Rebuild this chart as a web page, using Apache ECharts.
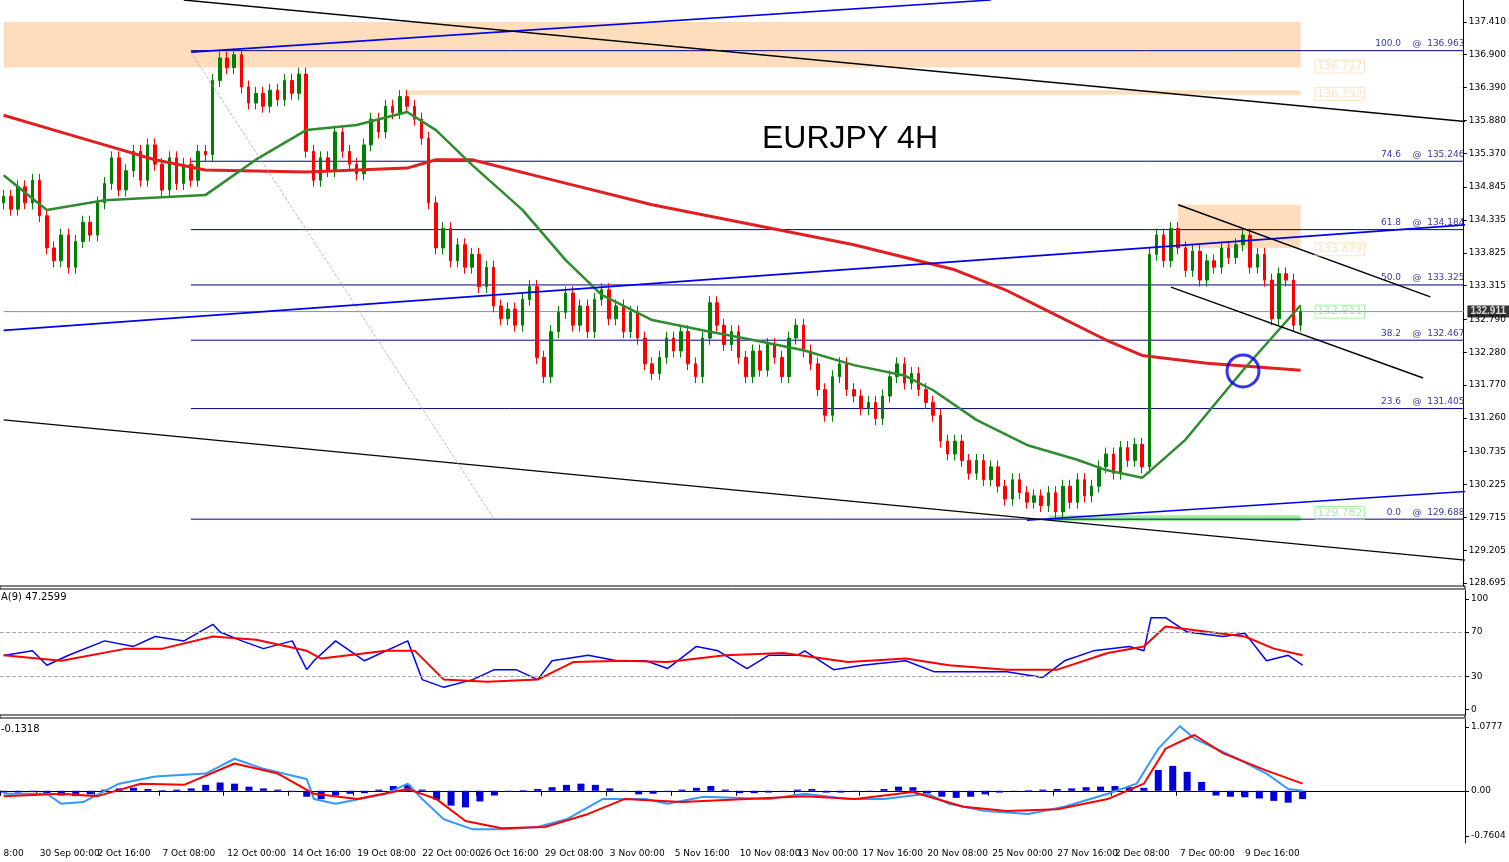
<!DOCTYPE html><html><head><meta charset="utf-8">
<script src="https://cdn.jsdelivr.net/npm/echarts@6/dist/echarts.min.js"></script>
<style>html,body{margin:0;background:#fff}#c{width:1509px;height:862px}</style></head><body><div id="c"></div>
<script>
const closes=[134.70,134.50,134.85,134.60,134.95,134.40,133.90,133.70,134.10,133.60,134.00,134.30,134.10,134.60,134.90,135.30,134.80,135.10,135.40,134.95,135.50,135.20,134.80,135.30,134.90,135.20,134.95,135.40,135.35,136.50,136.85,136.70,136.90,136.40,136.15,136.30,136.10,136.35,136.20,136.50,136.30,136.60,135.40,134.95,135.30,135.10,135.70,135.40,135.20,135.05,135.50,135.90,135.70,136.10,136.00,136.25,136.10,135.90,135.60,134.60,133.90,134.20,133.70,133.95,133.60,133.80,133.30,133.60,133.00,132.80,132.95,132.70,133.10,133.30,132.20,131.90,132.60,132.90,133.20,132.70,133.00,132.60,133.10,133.25,132.80,133.00,132.60,132.90,132.50,132.10,131.95,132.20,132.50,132.30,132.60,132.10,131.90,132.50,133.05,132.70,132.40,132.60,132.20,131.90,132.30,132.00,132.40,132.20,131.90,132.50,132.70,132.30,132.10,131.70,131.30,131.90,132.10,131.70,131.60,131.40,131.50,131.25,131.60,131.90,132.10,131.80,131.95,131.70,131.50,131.30,130.90,130.70,130.90,130.60,130.40,130.60,130.30,130.50,130.20,130.00,130.30,130.10,129.95,130.05,129.90,130.10,129.80,130.20,129.95,130.30,130.05,130.20,130.50,130.70,130.40,130.80,130.60,130.85,130.50,133.80,134.10,133.70,134.20,133.90,133.55,133.85,133.40,133.70,133.60,133.90,133.75,133.95,134.10,133.60,133.80,133.40,132.80,133.50,133.40,132.70,132.91];
const firstOpen=134.60;
const maFast=[[0,135.03],[5.6,134.49],[13.9,134.64],[27.8,134.72],[34.7,135.27],[41.7,135.73],[48.6,135.81],[55.6,136.01],[59.7,135.73],[65.3,135.19],[72.2,134.49],[77.8,133.71],[83.3,133.17],[90.3,132.78],[97.2,132.62],[104.2,132.47],[111.1,132.31],[118.1,132.08],[125,131.92],[129.2,131.69],[134.7,131.23],[141.7,130.84],[148.6,130.61],[152.8,130.45],[158.3,130.33],[163.9,130.92],[172.2,132.00],[180,133.01]];
const maSlow=[[0,135.96],[6.9,135.73],[13.9,135.50],[20.8,135.27],[27.8,135.11],[41.7,135.08],[55.6,135.14],[59.7,135.27],[65.3,135.27],[76.4,134.96],[90.3,134.57],[104.2,134.26],[118.1,133.95],[131.9,133.56],[138.9,133.25],[145.8,132.86],[152.8,132.47],[158.3,132.23],[166.7,132.11],[180,132.00]];
const fibLevels=[136.963,135.246,134.184,133.325,132.467,131.405,129.688];
const fibPcts=['100.0','74.6','61.8','50.0','38.2','23.6','0.0'];
const priceTicks=[137.410,136.900,136.390,135.880,135.370,134.845,134.335,133.825,133.315,132.790,132.280,131.770,131.260,130.735,130.225,129.715,129.205,128.695];
const blueLines=[[[0,132.62],[202.8,134.26]],[[25.7,136.94],[136.8,137.75]],[[141.7,129.67],[202.8,130.12]]];
const blackLines=[[[25,137.75],[202.8,135.86]],[[0,131.23],[202.8,129.05]],[[162.8,134.57],[197.5,133.14]],[[161.8,133.29],[196.5,131.88]]];
const grayDash=[[25.7,136.94],[67.6,129.70]];
const zones=[[0,180,137.41,136.70,'#fdd9b5'],[55.6,180,136.35,136.28,'#fdd9b5'],[162.8,180,134.57,133.90,'#fdd9b5'],[145.1,180,129.75,129.66,'#90ee90']];
const zoneLabels=[[136.717,'#fdd9b5'],[136.292,'#fdd9b5'],[133.879,'#fdd9b5'],[132.911,'#90ee90'],[129.782,'#90ee90']];
const lastPrice=132.911;
const circlePt=[172,131.99];
const rsiBlue=[[0,48.7],[4.2,53],[6.3,40],[9,49],[13.9,62],[18,57],[20.8,66],[25,62],[28.5,77],[29.9,70],[33.3,62],[36.1,55],[40.3,62],[41.7,36],[43.1,44],[45.8,62],[50,44],[55.6,62],[58.3,27],[61.1,20],[65.3,27],[68,36],[70.8,36],[73.6,27],[76.4,44],[80.6,49],[84.7,44],[88.9,44],[91.7,37],[95.8,57],[98.6,53],[102.8,37],[105.6,49],[109.7,49],[111.1,53],[115.3,36],[119.4,40],[125,44],[129.2,34],[133.3,34],[138.9,34],[144.4,29],[147.2,44],[151.4,53],[155.6,57],[158.3,53],[159,83],[161.1,83],[163.9,70],[169.4,66],[172.2,69],[175,44],[177.8,49],[179.9,40]];
const rsiRed=[[0,49],[8.3,44],[16.7,55],[22.2,55],[29.2,66],[34.7,63],[41.7,53],[44.4,46],[52.8,53],[56.9,53],[61.1,27],[66.7,25],[73.6,27],[79.2,43],[86.1,44],[91.7,43],[100,49],[108.3,51],[116.7,43],[125,46],[130.6,40],[138.9,36],[145.8,36],[152.8,51],[158.3,57],[161.1,75],[166.7,70],[172.2,66],[176.4,55],[179.9,49]];
const macdFast=[[0,-0.05],[5.6,-0.05],[8.3,-0.22],[11.1,-0.19],[16,0.12],[20.8,0.24],[27.8,0.29],[31.9,0.54],[36.1,0.37],[41.7,0.2],[43.1,-0.14],[45.8,-0.22],[52.8,-0.05],[55.6,0.12],[58.3,-0.14],[61.1,-0.48],[65.3,-0.65],[69.4,-0.65],[73.6,-0.61],[77.8,-0.48],[83.3,-0.14],[88.9,-0.14],[91.7,-0.22],[97.2,-0.1],[105.6,-0.14],[111.1,-0.05],[116.7,-0.14],[122.2,-0.14],[127.8,-0.05],[130.6,-0.22],[136.1,-0.34],[141.7,-0.39],[147.2,-0.27],[152.8,-0.05],[156.9,0.12],[159.7,0.71],[162.5,1.09],[165.3,0.88],[170.8,0.54],[175,0.29],[177.8,0.03],[179.9,0]];
const macdSignal=[[0,-0.09],[8.3,-0.05],[12.5,-0.09],[19.4,0.12],[25,0.1],[31.9,0.46],[37.5,0.29],[43.1,-0.05],[48.6,-0.14],[55.6,0.03],[59.7,-0.14],[63.9,-0.51],[69.4,-0.63],[75,-0.61],[80.6,-0.39],[86.1,-0.14],[94.4,-0.19],[102.8,-0.14],[111.1,-0.09],[118.1,-0.14],[126.4,-0.02],[133.3,-0.27],[138.9,-0.34],[145.8,-0.31],[152.8,-0.14],[158.3,0.12],[161.1,0.71],[164.6,0.94],[169.4,0.63],[175,0.34],[180,0.12]];
const macdHist=[-0.03,-0.03,-0.02,-0.04,-0.08,-0.09,-0.06,0.02,0.04,0.05,0.03,0.01,0.02,0.04,0.10,0.14,0.12,0.07,0.04,0.02,-0.02,-0.10,-0.14,-0.08,-0.05,-0.04,0.02,0.08,0.10,0.02,-0.15,-0.25,-0.28,-0.18,-0.08,-0.02,0.01,0.03,0.06,0.10,0.12,0.10,0.04,-0.02,-0.06,-0.05,-0.02,0.02,0.05,0.08,0.02,-0.04,-0.04,-0.03,-0.02,0.02,0.03,-0.03,-0.03,-0.02,-0.01,0.03,0.07,0.06,-0.04,-0.10,-0.12,-0.10,-0.06,-0.03,-0.01,0.01,0.02,0.03,0.04,0.06,0.07,0.08,0.06,0.05,0.35,0.42,0.32,0.15,-0.08,-0.10,-0.11,-0.13,-0.17,-0.20,-0.14];
const histStep=2;
const dateLabels=['8:00','30 Sep 00:00','2 Oct 16:00','7 Oct 08:00','12 Oct 00:00','14 Oct 16:00','19 Oct 08:00','22 Oct 00:00','26 Oct 16:00','29 Oct 08:00','3 Nov 00:00','5 Nov 16:00','10 Nov 08:00','13 Nov 00:00','17 Nov 16:00','20 Nov 08:00','25 Nov 00:00','27 Nov 16:00','2 Dec 08:00','7 Dec 00:00','9 Dec 16:00'];
const nCats=203;

const cats=[];for(let i=0;i<nCats;i++)cats.push('');
dateLabels.forEach((d,k)=>{const i=k===0?0:Math.round((-30+k*63.6)/7.22);cats[i]=d;});
const ohlc=closes.map((c,i)=>{const o=i?closes[i-1]:firstOpen;return [o,c,Math.min(o,c)-0.1,Math.max(o,c)+0.1];});
const lineS=(d,color,w,type,z)=>({type:'line',data:d,symbol:'none',lineStyle:{color,width:w,type:type||'solid'},silent:true,animation:false,xAxisIndex:0,yAxisIndex:0,z:z||3});
const series=[];
series.push({type:'candlestick',data:ohlc,barWidth:3,itemStyle:{color:'#008000',color0:'#ff0000',borderColor:'#008000',borderColor0:'#ff0000',borderWidth:1},
 markArea:{silent:true,data:zones.map(z=>[{coord:[z[0],z[2]],itemStyle:{color:z[4],opacity:0.9}},{coord:[z[1],z[3]]}])},z:2});
fibLevels.forEach(v=>series.push(lineS([[25.7,v],[202.8,v]],'#000080',1,'solid',1)));
series.push(lineS([[0,lastPrice],[202.8,lastPrice]],'#8090a0',1,'solid',1));
series.push({type:'scatter',symbolSize:0,silent:true,z:6,clip:false,itemStyle:{color:'transparent'},
 label:{show:true,position:'left',distance:2,offset:[0,-7],formatter:p=>fibPcts[p.dataIndex]+'    @  '+p.value[1].toFixed(3),color:'#000080',fontSize:9,fontFamily:'Tahoma, DejaVu Sans'},
 data:fibLevels.map(v=>[202.8,v])});
series.push(lineS(maSlow,'#e02020',3));
series.push(lineS(maFast,'#2e8b2e',2.5));
blueLines.forEach(l=>series.push(lineS(l,'#0000ee',1.6)));
blackLines.forEach(l=>series.push(lineS(l,'#000',1.4)));
series.push(lineS(grayDash,'#aaa',0.8,'dashed'));
series.push({type:'scatter',data:[circlePt],symbol:'circle',symbolSize:32,itemStyle:{color:'rgba(0,0,0,0)',borderColor:'#0000ee',borderWidth:3},z:5,silent:true});
series.push({type:'scatter',symbolSize:0,silent:true,z:6,itemStyle:{color:'transparent'},
 label:{show:true,position:'right',distance:0,formatter:p=>p.value[1].toFixed(3),fontSize:11,fontFamily:'Tahoma, DejaVu Sans',borderWidth:1,padding:[1,2]},
 data:zoneLabels.map(z=>({value:[181.5,z[0]],label:{color:z[1],borderColor:z[1]}}))});
series.push({type:'scatter',data:[[202.8,lastPrice]],symbolSize:0,clip:false,silent:true,z:7,itemStyle:{color:'transparent'},label:{show:true,position:'right',distance:1,formatter:lastPrice.toFixed(3),color:'#fff',backgroundColor:'#000',fontSize:10,fontWeight:'bold',padding:[1,3]}});
const l2=(d,color,w,xi)=>({type:'line',data:d,symbol:'none',lineStyle:{color,width:w},silent:true,xAxisIndex:xi,yAxisIndex:xi,z:3});
series.push(Object.assign(l2(rsiBlue,'#0000ff',1.5,1),{markLine:{silent:true,symbol:'none',label:{show:false},lineStyle:{color:'#aaa',type:'dashed',width:1},data:[{yAxis:70},{yAxis:30}]}}));
series.push(l2(rsiRed,'#ff0000',2,1));
series.push({type:'bar',data:macdHist.map((v,k)=>[k*histStep,v]),barWidth:7,itemStyle:{color:'#0000dd'},xAxisIndex:2,yAxisIndex:2,silent:true});
series.push(l2(macdFast,'#3399ff',2,2));
series.push(l2(macdSignal,'#ff0000',2,2));

const xa=(gi,show)=>({type:'category',data:cats,gridIndex:gi,boundaryGap:true,axisLine:{show:show,lineStyle:{color:'#000'}},axisTick:{show:show,interval:(i,v)=>v!=='',lineStyle:{color:'#000'}},axisLabel:{show:show,interval:(i,v)=>v!=='',color:'#000',fontSize:9,fontFamily:'Tahoma, DejaVu Sans',align:'left',margin:6},splitLine:{show:false}});
const ya=(gi,min,max,ticks)=>({type:'value',gridIndex:gi,position:'right',min,max,axisLine:{show:true,lineStyle:{color:'#000'}},splitLine:{show:false},axisTick:{show:true,length:4,customValues:ticks,lineStyle:{color:'#000'}},axisLabel:{show:true,customValues:ticks,color:'#000',fontSize:9,fontFamily:'Tahoma, DejaVu Sans',margin:6,formatter:v=>gi===0?v.toFixed(3):(gi===1?String(Math.round(v)):(v===0?'0.00':String(v)))}});
const opt={animation:false,
 title:{text:'EURJPY 4H',left:845,top:118,textAlign:'center',textStyle:{fontSize:32,fontWeight:'normal',fontFamily:'Arial, Liberation Sans',color:'#000'}},
 graphic:[
  {type:'text',left:1,top:592,style:{text:'A(9) 47.2599',fontSize:10,fontFamily:'Tahoma, DejaVu Sans',fill:'#000'}},
  {type:'text',left:1,top:724,style:{text:'-0.1318',fontSize:10,fontFamily:'Tahoma, DejaVu Sans',fill:'#000'}},
  {type:'rect',shape:{x:0,y:586,width:1465,height:3},style:{fill:'#fff',stroke:'#000',lineWidth:1}},
  {type:'rect',shape:{x:0,y:715,width:1465,height:3},style:{fill:'#fff',stroke:'#000',lineWidth:1}}
 ],
 grid:[{left:0,right:44,top:0,height:586},{left:0,right:44,top:590,height:125},{left:0,right:44,top:719,height:124}],
 xAxis:[xa(0,false),xa(1,false),xa(2,true)],
 yAxis:[ya(0,128.65,137.75,priceTicks),ya(1,-5,108,[100,70,30,0]),ya(2,-0.88,1.21,[1.0777,0,-0.7604])],
 series};
echarts.init(document.getElementById('c')).setOption(opt);
</script></body></html>
